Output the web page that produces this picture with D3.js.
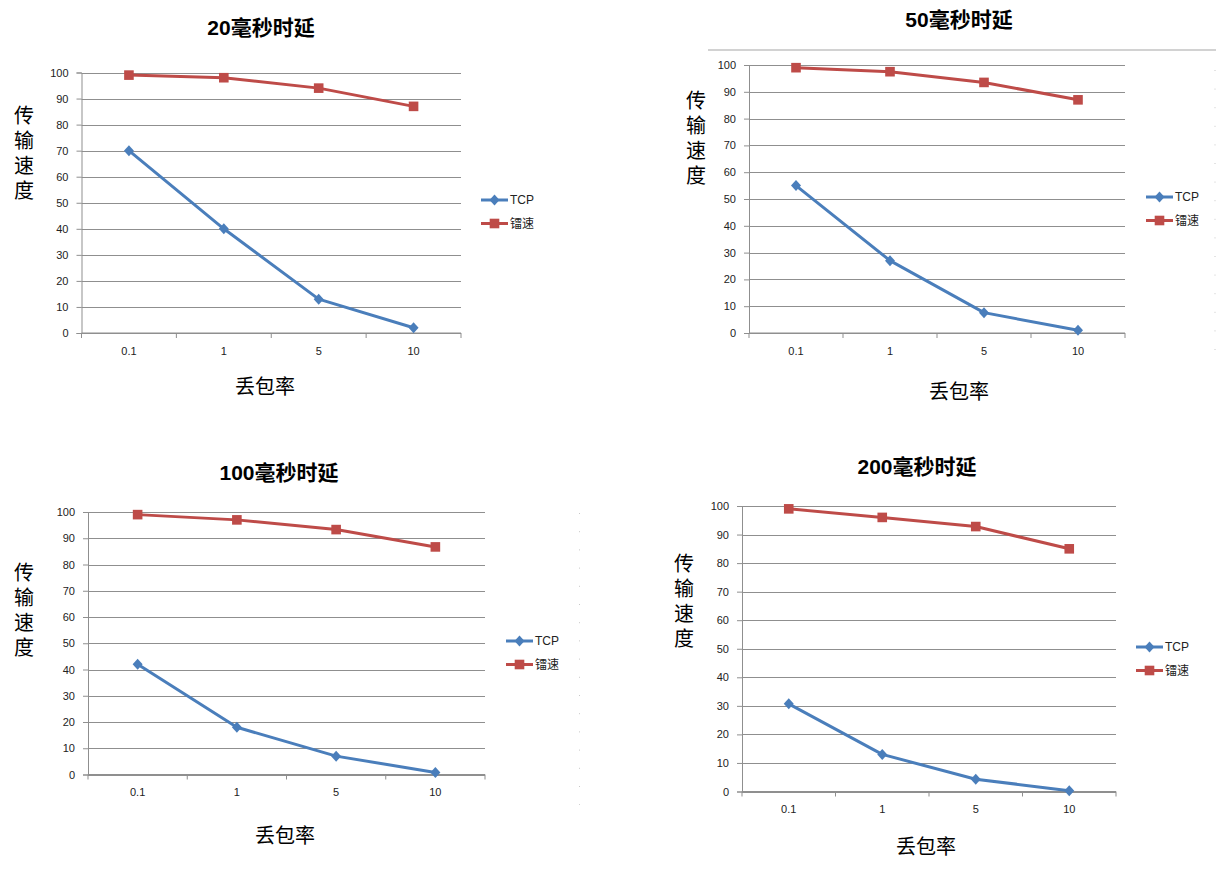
<!DOCTYPE html>
<html>
<head>
<meta charset="utf-8">
<script src="https://cdn.jsdelivr.net/npm/d3@7"></script>
<style>
  body { margin: 0; background: #fff; }
  svg { display: block; }
  .tick text { font-family: "Liberation Sans", Arial, sans-serif; font-size: 11px; fill: #222; }
</style>
</head>
<body>
<svg id="chart" width="1216" height="873"></svg>
<script>
// data
var lossRates = ["0.1", "1", "5", "10"];
var yTicks = [0, 10, 20, 30, 40, 50, 60, 70, 80, 90, 100];
var seriesNames = ["TCP", "镭速"];
var titles = ["20毫秒时延", "50毫秒时延", "100毫秒时延", "200毫秒时延"];
var yTitle = "传输速度";
var xTitle = "丢包率";

var tcp20 = [70, 40, 13, 2];
var rs20 = [99, 98, 94, 87];
var tcp50 = [55, 27, 7.6, 1];
var rs50 = [99, 97.5, 93.5, 87];
var tcp100 = [42, 18, 7, 0.8];
var rs100 = [99, 97, 93.3, 86.7];
var tcp200 = [30.7, 13, 4.3, 0.3];
var rs200 = [99, 96, 92.8, 85];

var colors = ["#4A7EBB", "#BE4B48"];
var cjk = "'Noto Sans CJK SC', sans-serif";
var latin = "'Liberation Sans', Arial, 'Noto Sans CJK SC', sans-serif";

// where each panel sits on the page
var panels = [
  { title: titles[0], tcp: tcp20, rs: rs20, left: 81.5, right: 461, top: 72.5, bottom: 333,
    tx: 261, ty: 28, ytx: 24, yty: 115, xtx: 265, xty: 387, lx: 481, ly: 200 },
  { title: titles[1], tcp: tcp50, rs: rs50, left: 749, right: 1125, top: 65, bottom: 333,
    tx: 959, ty: 20, ytx: 696, yty: 100, xtx: 959, xty: 392, lx: 1146, ly: 197 },
  { title: titles[2], tcp: tcp100, rs: rs100, left: 88, right: 485, top: 512, bottom: 774.5,
    tx: 279, ty: 473, ytx: 24, yty: 572, xtx: 285, xty: 836, lx: 506, ly: 641 },
  { title: titles[3], tcp: tcp200, rs: rs200, left: 742, right: 1116, top: 506, bottom: 791.5,
    tx: 917, ty: 467, ytx: 684, yty: 563, xtx: 926, xty: 847, lx: 1136, ly: 647 }
];

var svg = d3.select("#chart");

// leftover bits of the screenshot (frame line and dotted edges)
svg.append("line").attr("x1", 708).attr("x2", 1216).attr("y1", 50).attr("y2", 50)
  .attr("stroke", "#a6a6a6").attr("stroke-width", 1.2);
svg.append("line").attr("x1", 1215).attr("x2", 1215).attr("y1", 70).attr("y2", 355)
  .attr("stroke", "#c8c8c8").attr("stroke-dasharray", "1,17.6");
svg.append("line").attr("x1", 579.5).attr("x2", 579.5).attr("y1", 513).attr("y2", 805)
  .attr("stroke", "#c8c8c8").attr("stroke-dasharray", "1,17.2");

function marker(sel, i) {
  if (i === 0) {
    sel.append("path").attr("d", "M0,-5.5L5,0L0,5.5L-5,0Z").attr("fill", colors[0]);
  } else {
    sel.append("rect").attr("x", -4.8).attr("y", -4.8).attr("width", 9.6).attr("height", 9.6)
      .attr("fill", colors[1]);
  }
}

panels.forEach(function(p) {
  var g = svg.append("g");
  var x = d3.scaleBand().domain(lossRates).range([p.left, p.right]);
  var y = d3.scaleLinear().domain([0, 100]).range([p.bottom, p.top]);
  var cx = function(d) { return x(d) + x.bandwidth() / 2; };

  // gridlines
  g.selectAll(".grid").data(yTicks).enter().append("line")
    .attr("x1", p.left).attr("x2", p.right)
    .attr("y1", function(d) { return Math.round(y(d)) + 0.5; })
    .attr("y2", function(d) { return Math.round(y(d)) + 0.5; })
    .attr("stroke", "#8f8f8f").attr("stroke-width", 1.2);

  // y axis
  var ya = g.append("g").attr("transform", "translate(" + p.left + ",0)")
    .call(d3.axisLeft(y).tickValues(yTicks).tickSize(5).tickPadding(8));
  ya.select(".domain").attr("stroke", "#8f8f8f");
  ya.selectAll(".tick line").attr("stroke", "#8f8f8f");

  // x axis: ticks at category boundaries, labels at centres
  var xa = g.append("g").attr("transform", "translate(0," + p.bottom + ")");
  xa.append("line").attr("x1", p.left).attr("x2", p.right).attr("stroke", "#8f8f8f").attr("stroke-width", 1.2);
  var bounds = lossRates.map(function(d) { return x(d); }).concat([p.right]);
  xa.selectAll(".xt").data(bounds).enter().append("line")
    .attr("x1", function(d) { return d; }).attr("x2", function(d) { return d; })
    .attr("y1", 0).attr("y2", 5).attr("stroke", "#8f8f8f");
  xa.selectAll(".xl").data(lossRates).enter().append("text")
    .attr("x", cx).attr("y", 18).attr("dy", "0.35em")
    .attr("text-anchor", "middle")
    .style("font-family", latin).style("font-size", "11px").style("fill", "#222")
    .text(function(d) { return d; });

  // series
  var line = d3.line().x(function(d, i) { return cx(lossRates[i]); }).y(function(d) { return y(d); });
  [p.tcp, p.rs].forEach(function(vals, si) {
    g.append("path").datum(vals).attr("d", line)
      .attr("fill", "none").attr("stroke", colors[si]).attr("stroke-width", 3)
      .attr("stroke-linejoin", "round");
    g.selectAll(".m" + si).data(vals).enter().append("g")
      .attr("transform", function(d, i) { return "translate(" + cx(lossRates[i]) + "," + y(d) + ")"; })
      .each(function() { marker(d3.select(this), si); });
  });

  // title
  g.append("text").attr("x", p.tx).attr("y", p.ty).attr("dy", "0.35em")
    .attr("text-anchor", "middle")
    .style("font-family", latin).style("font-weight", "bold").style("font-size", "21px")
    .text(p.title);

  // vertical y title, written top to bottom as one text
  g.append("text").attr("x", p.ytx).attr("y", p.yty - 10)
    .style("writing-mode", "vertical-rl")
    .style("letter-spacing", "5px")
    .style("font-family", cjk).style("font-size", "20px")
    .text(yTitle);

  g.append("text").attr("x", p.xtx).attr("y", p.xty).attr("dy", "0.35em")
    .attr("text-anchor", "middle")
    .style("font-family", cjk).style("font-size", "20px")
    .text(xTitle);

  // legend
  seriesNames.forEach(function(name, si) {
    var lg = g.append("g").attr("transform", "translate(" + p.lx + "," + (p.ly + si * 23.5) + ")");
    lg.append("line").attr("x1", 0).attr("x2", 27).attr("stroke", colors[si]).attr("stroke-width", 3);
    marker(lg.append("g").attr("transform", "translate(13.5,0)"), si);
    lg.append("text").attr("x", 29).attr("dy", "0.35em")
      .style("font-family", latin).style("font-size", "12px").style("fill", "#222")
      .text(name);
  });
});
</script>
</body>
</html>
